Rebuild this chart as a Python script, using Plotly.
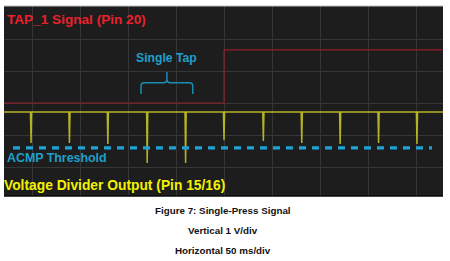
import plotly.graph_objects as go

# ---------------- data ----------------
# time in ms (50 ms/div), voltage in V (1 V/div)
tap_time_ms = [20.8, 250.0, 250.0, 478.0]
tap_volts = [2.0, 2.0, 3.66, 3.66]

divider_base_v = 1.72
spike_times_ms = [49, 89, 129, 170, 210, 250, 291, 331, 371, 411, 451]
spike_depth_v = [0.75, 0.75, 0.72, 0.125, 0.125, 0.84, 0.81, 0.75, 0.72, 0.75, 0.72]
tap_spike_idx = [3, 4]          # the two spikes that form the single tap

threshold_v = 0.60
threshold_span_ms = [30.2, 466.7]

caption_lines = ["Figure 7: Single-Press Signal", "Vertical 1 V/div", "Horizontal 50 ms/div"]

# ---------------- geometry helpers ----------------
W, H = 450, 261
PL, PR, PT, PB = 4, 443, 6, 196
MS_PER_PX = 50 / 48
V_PER_PX = 1 / 32
T0 = 50 - (32 - PL) * MS_PER_PX
V0 = 0 - (PB - 167) * V_PER_PX
T1 = T0 + (PR - PL) * MS_PER_PX
V1 = V0 + (PB - PT) * V_PER_PX


def Y(py):
    return V0 + (PB - py) * V_PER_PX


# build the divider trace from baseline + spikes
yt, yv = [T0], [divider_base_v]
for t, d in zip(spike_times_ms, spike_depth_v):
    yt += [t - 0.6, t, t + 0.6]
    yv += [divider_base_v, d, divider_base_v]
yt.append(T1)
yv.append(divider_base_v)

fig = go.Figure()
fig.add_trace(go.Scatter(x=tap_time_ms, y=tap_volts, mode="lines",
                         line=dict(color="#961c2a", width=1.1), hoverinfo="skip"))
fig.add_trace(go.Scatter(x=yt, y=yv, mode="lines",
                         line=dict(color="#b4b424", width=1.5), hoverinfo="skip"))
fig.add_trace(go.Scatter(x=threshold_span_ms, y=[threshold_v, threshold_v], mode="lines",
                         line=dict(color="#1ea3d6", width=3.2, dash="7px,6px"), hoverinfo="skip"))

# curly bracket over the single tap
L = spike_times_ms[tap_spike_idx[0]] - 6.5
R = spike_times_ms[tap_spike_idx[1]] + 7.5
M = (L + R) / 2
yb, yh, ytip = 2.28, 2.635, 2.97
rx, ry = 3.5, 0.11
path = (f"M {L},{yb} L {L},{yh - ry} Q {L},{yh} {L + rx},{yh} "
        f"L {M - rx},{yh} Q {M},{yh} {M},{yh + ry} L {M},{ytip} "
        f"M {M},{yh + ry} Q {M},{yh} {M + rx},{yh} "
        f"L {R - rx},{yh} Q {R},{yh} {R},{yh - ry} L {R},{yb}")
fig.add_shape(type="path", path=path, xref="x", yref="y",
              line=dict(color="#1b8db4", width=1.5))

font = "Liberation Sans, Arial, sans-serif"
# positions in figure pixels (px, py)
ann = [
    dict(px=5, py=20, text="<b>TAP_1 Signal (Pin 20)</b>", color="#e8222c", size=13.6, xa="left"),
    dict(px=166.5, py=58, text="<b>Single Tap</b>", color="#1fa0cc", size=12.2, xa="center"),
    dict(px=5, py=158, text="<b>ACMP Threshold</b>", color="#1fa0cc", size=12.4, xa="left"),
    dict(px=2, py=185.5, text="<b>Voltage Divider Output (Pin 15/16)</b>", color="#f2f200", size=13.8, xa="left"),
]
annotations = []
for a in ann:
    annotations.append(dict(x=a["px"] / W, y=1 - a["py"] / H, xref="paper", yref="paper",
                            text=a["text"], showarrow=False, xanchor=a["xa"], yanchor="middle",
                            font=dict(family=font, size=a["size"], color=a["color"])))
for line, py in zip(caption_lines, [210, 230, 250]):
    annotations.append(dict(x=222.5 / W, y=1 - py / H, xref="paper", yref="paper",
                            text=f"<b>{line}</b>", showarrow=False, xanchor="center",
                            yanchor="middle", font=dict(family=font, size=9.8, color="#111111")))

fig.update_layout(
    width=W, height=H, margin=dict(l=0, r=0, t=0, b=0),
    paper_bgcolor="white", plot_bgcolor="#1d1d1d",
    showlegend=False, annotations=annotations,
    xaxis=dict(domain=[PL / W, PR / W], range=[T0, T1], showticklabels=False, ticks="",
               showgrid=True, gridcolor="#363636", gridwidth=1, tick0=0, dtick=50,
               zeroline=False, showline=False, fixedrange=True),
    yaxis=dict(domain=[1 - PB / H, 1 - PT / H], range=[V0, V1], showticklabels=False, ticks="",
               showgrid=True, gridcolor="#363636", gridwidth=1, tick0=0, dtick=1,
               zeroline=False, showline=False, fixedrange=True),
)
fig.add_shape(type="line", xref="paper", yref="paper", x0=PL / W, x1=PR / W,
              y0=1 - PT / H, y1=1 - PT / H, line=dict(color="#bdbdbd", width=1))
fig.add_shape(type="line", xref="paper", yref="paper", x0=PL / W, x1=PR / W,
              y0=1 - PB / H, y1=1 - PB / H, line=dict(color="#0a0a0a", width=1.5))

fig.write_html("out.html", config={"displayModeBar": False})
